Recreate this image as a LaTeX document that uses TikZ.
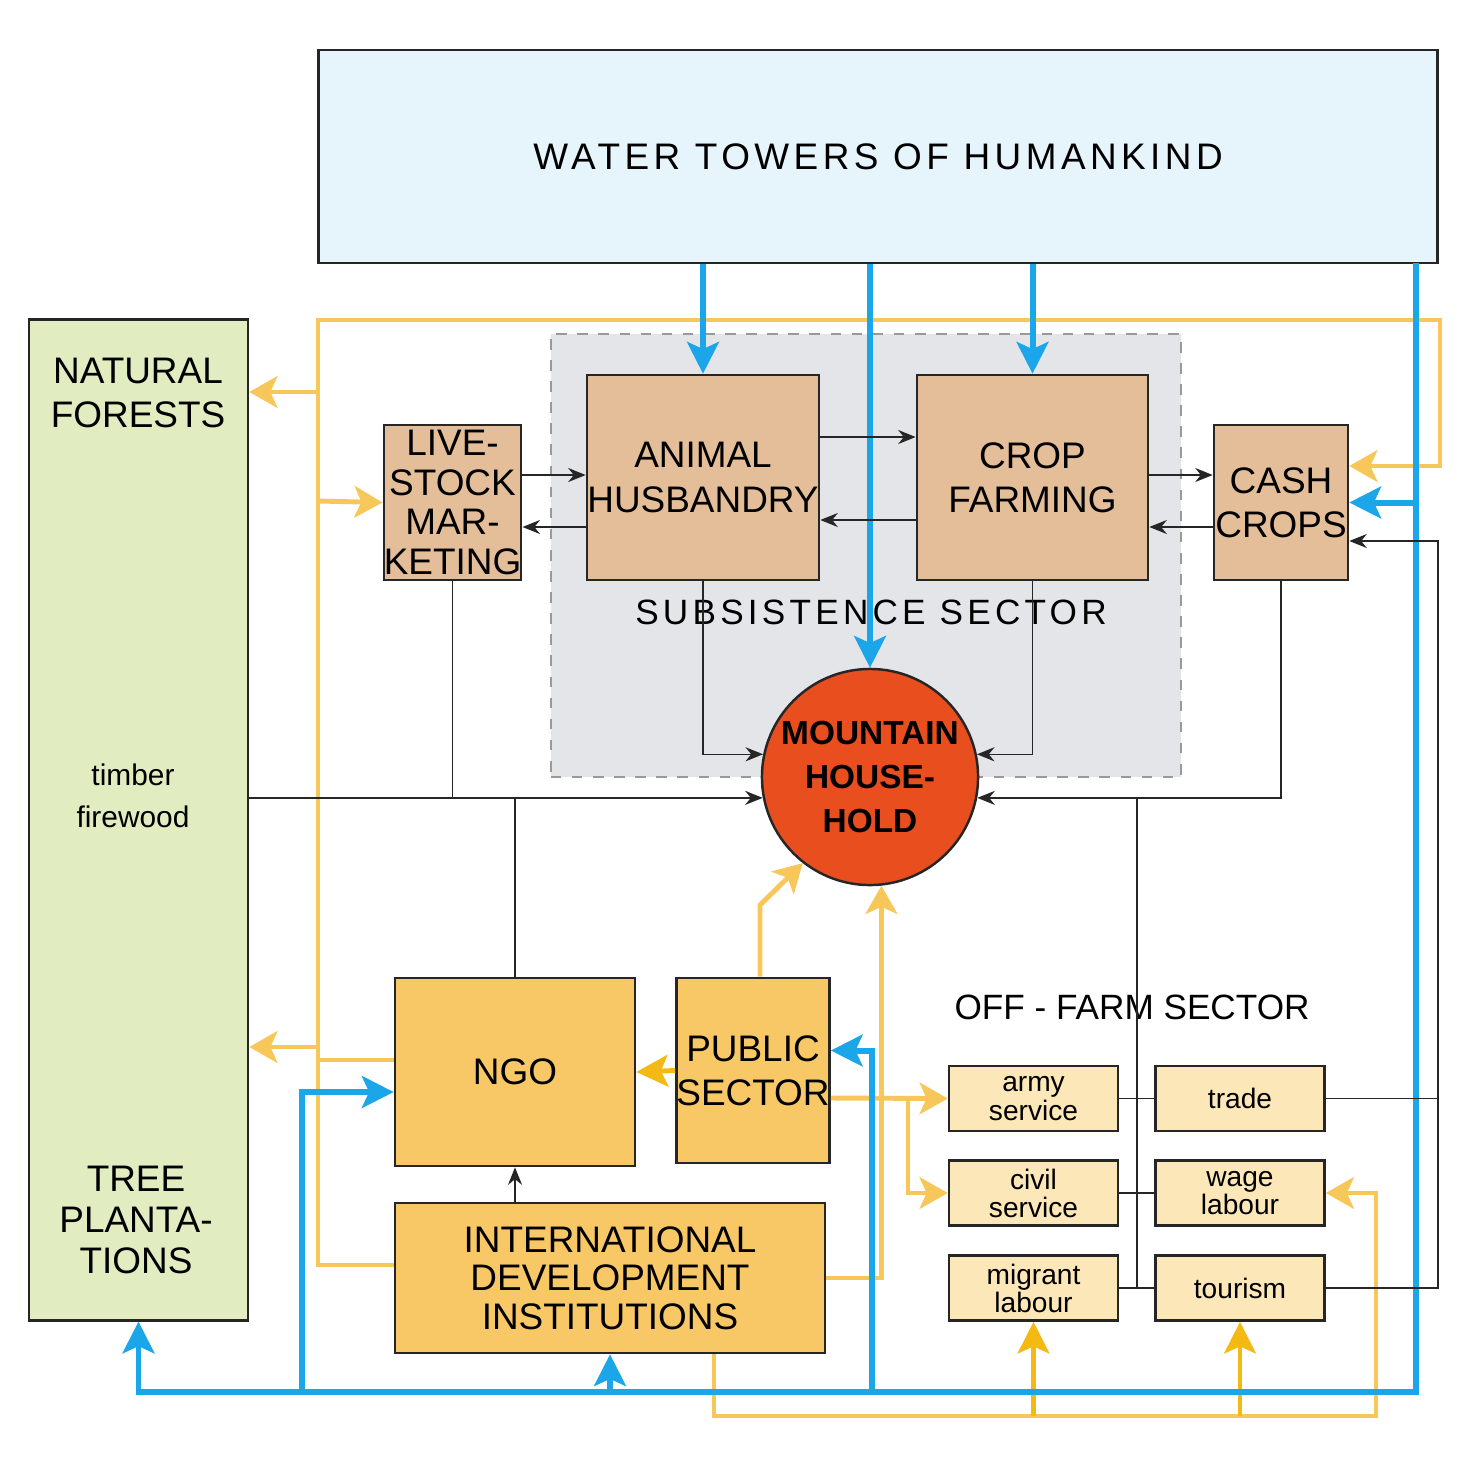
\documentclass[tikz,border=0pt]{standalone}
\usepackage{fontspec}
\setmainfont{Liberation Sans}
\usetikzlibrary{arrows.meta,calc}

\definecolor{skyfill}{HTML}{E6F5FC}
\definecolor{forestfill}{HTML}{E1EDC0}
\definecolor{subfill}{HTML}{E3E5E8}
\definecolor{farmfill}{HTML}{E3BE98}
\definecolor{instfill}{HTML}{F9C866}
\definecolor{jobfill}{HTML}{FCE7B8}
\definecolor{hhfill}{HTML}{E84E1E}
\definecolor{water}{HTML}{1AA6E8}
\definecolor{money}{HTML}{F7C75A}
\definecolor{labour}{HTML}{F5B914}

\tikzset{
  box/.style={draw=black!85,line width=0.7pt,inner sep=0pt,align=center,
    font=\fontsize{10.5}{12.6}\selectfont},
  job/.style={box,fill=jobfill,minimum width=1.69cm,minimum height=0.65cm,
    font=\fontsize{8}{8}\selectfont},
  wat/.style={water,line width=1.7pt,-{Stealth[length=9pt,width=9pt,inset=2pt]}},
  mon/.style={money,line width=1.4pt,-{Stealth[length=8pt,width=9pt,inset=2pt]}},
  lab/.style={labour,line width=1.4pt,-{Stealth[length=9pt,width=9pt,inset=2pt]}},
  flow/.style={black!85,line width=0.45pt,-{Stealth[length=5pt,width=4pt]}},
  link/.style={black!85,line width=0.45pt}
}

\begin{document}
\begin{tikzpicture}[x=0.01cm,y=-0.01cm]
  \useasboundingbox (0,0) rectangle (1479,1457);

  % boxes
  \node[box,fill=skyfill,minimum width=11.18cm,minimum height=2.13cm] (wth) at (878,156.5)
    {\addfontfeature{LetterSpace=12}WATER TOWERS OF HUMANKIND};
  \node[box,fill=forestfill,minimum width=2.19cm,minimum height=10cm] (forest) at (138.5,820) {};
  \node[align=center,font=\fontsize{10.5}{12.6}\selectfont] (natlbl) at (138,393) {NATURAL\\FORESTS};
  \node[align=center,font=\fontsize{8.5}{11.8}\selectfont] (woodlbl) at (133,796) {timber\\firewood};
  \node[align=center,font=\fontsize{10.5}{11.6}\selectfont] (treelbl) at (136,1220) {TREE\\PLANTA-\\TIONS};
  \node[draw=gray!80,dashed,line width=0.7pt,fill=subfill,minimum width=6.3cm,minimum height=4.43cm] (subsist) at (866,555.5) {};
  \node[font=\fontsize{10}{12}\selectfont] (sublbl) at (871,612) {\addfontfeature{LetterSpace=12}SUBSISTENCE SECTOR};

  \node[box,fill=farmfill,minimum width=1.33cm,minimum height=1.55cm,font=\fontsize{10.5}{11.2}\selectfont] (live) at (452.5,502.5)
    {LIVE-\\STOCK\\MAR-\\KETING};
  \node[box,fill=farmfill,minimum width=2.32cm,minimum height=2.05cm] (anim) at (703,477.5) {ANIMAL\\HUSBANDRY};
  \node[box,fill=farmfill,minimum width=2.31cm,minimum height=2.05cm] (crop) at (1032.5,477.5) {CROP\\FARMING};
  \node[box,fill=farmfill,minimum width=1.34cm,minimum height=1.55cm] (cash) at (1281,502.5) {CASH\\CROPS};
  \node[box,circle,fill=hhfill,minimum size=2.16cm,font=\fontsize{9.5}{12.5}\selectfont\bfseries] (hh) at (870,777)
    {MOUNTAIN\\HOUSE-\\HOLD};

  \node[box,fill=instfill,minimum width=2.4cm,minimum height=1.88cm] (ngo) at (515,1072) {NGO};
  \node[box,fill=instfill,minimum width=1.42cm,minimum height=1.85cm] (pub) at (753,1070.5) {PUBLIC\\SECTOR};
  \node[box,fill=instfill,minimum width=4.3cm,minimum height=1.5cm,font=\fontsize{10.5}{11}\selectfont] (idi) at (610,1278)
    {INTERNATIONAL\\DEVELOPMENT\\INSTITUTIONS};

  \node[font=\fontsize{10}{12}\selectfont] (offlbl) at (1132,1007) {OFF - FARM SECTOR};
  \node[job] (army)  at (1033.5,1098.5) {army\\service};
  \node[job] (trade) at (1240,1098.5)   {trade};
  \node[job] (civil) at (1033.5,1193)   {civil\\service};
  \node[job] (wage)  at (1240,1193)     {wage\\labour};
  \node[job] (migr)  at (1033.5,1288)   {migrant\\labour};
  \node[job] (tour)  at (1240,1288)     {tourism};

  % money flows
  \draw[mon] ($(idi.west)+(0,-13)$) -| (318,320) -| (1440,466) -- ($(cash.east)+(0,-36.5)$);
  \draw[mon] (318,392) -- ($(forest.east)+(0,-428)$);
  \draw[mon] (318,501) -- (live.west);
  \draw[money,line width=1.4pt] ($(ngo.west)+(0,-12)$) -- (318,1060);
  \draw[mon] (318,1047) -- ($(forest.east)+(0,227)$);
  \draw[mon] ($(pub.north)+(7,0)$) -- (760,905) -- (hh.232);
  \draw[mon] ($(pub.east)+(0,27.5)$) -- (army.west);
  \draw[mon] (908,1098) |- (civil.west);
  \draw[mon] (idi.east) -| (hh.276);
  \coordinate (yb) at (1033,1416);
  \draw[mon] ($(idi.south)+(104,0)$) |- (1376,1416) |- (wage.east);
  \draw[lab] (migr.south |- yb) -- (migr.south);
  \draw[lab] (tour.south |- yb) -- (tour.south);
  \draw[lab] (pub.west) -- (ngo.east);

  % water flows
  \draw[wat] (wth.south -| anim.north) -- (anim.north);
  \draw[wat] (wth.south -| hh.north) -- (hh.north);
  \draw[wat] (wth.south -| crop.north) -- (crop.north);
  \coordinate (wr) at (1416,263);
  \coordinate (wb) at (1416,1392);
  \draw[wat] (wr) -- (wb) -| (forest.south);
  \draw[wat] (cash.east -| wr) -- (cash.east);
  \draw[wat] (idi.south |- wb) -- (idi.south);
  \draw[wat] (302,1392) |- ($(ngo.west)+(0,20)$);
  \draw[wat] (872,1392) |- ($(pub.east)+(0,-20)$);

  % goods and services
  \draw[flow] ($(live.east)+(0,-27.5)$) -- ($(anim.west)+(0,-2.5)$);
  \draw[flow] ($(anim.west)+(0,49.5)$) -- ($(live.east)+(0,24.5)$);
  \draw[flow] ($(anim.east)+(0,-40.5)$) -- ($(crop.west)+(0,-40.5)$);
  \draw[flow] ($(crop.west)+(0,42.5)$) -- ($(anim.east)+(0,42.5)$);
  \draw[flow] ($(crop.east)+(0,-2.5)$) -- ($(cash.west)+(0,-27.5)$);
  \draw[flow] ($(cash.west)+(0,24.5)$) -- ($(crop.east)+(0,49.5)$);
  \draw[flow] (anim.south) |- (hh.168);
  \draw[flow] (crop.south) |- (hh.12);
  \draw[flow] (forest.east |- hh.191) -- (hh.191);
  \draw[link] (live.south) -- (live.south |- hh.191);
  \draw[link] (ngo.north) -- (ngo.north |- hh.191);
  \draw[flow] (cash.south) |- (hh.349);
  \draw[link] (1137,798) -- (1137,1288);
  \draw[link] (army.east) -- (trade.west);
  \draw[link] (civil.east) -- (wage.west);
  \draw[link] (migr.east) -- (tour.west);
  \draw[link] (trade.east) -- (1438,1098.5);
  \draw[flow] (tour.east) -| (1438,541) -- ($(cash.east)+(0,38.5)$);
  \draw[flow] (ngo.south |- idi.north) -- (ngo.south);
\end{tikzpicture}
\end{document}
